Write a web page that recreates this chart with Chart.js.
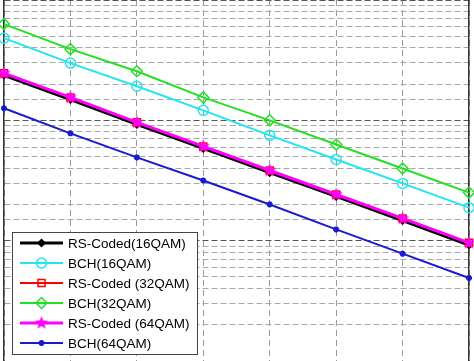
<!DOCTYPE html>
<html>
<head>
<meta charset="utf-8">
<script src="https://cdn.jsdelivr.net/npm/chart.js@4"></script>
<style>
  body { margin: 0; background: #fff; }
  #wrap { width: 474px; height: 361px; position: relative; }
</style>
</head>
<body>
<div id="wrap"><canvas id="ber"></canvas></div>
<script>
// SNR points (dB) - axis labels are cropped out of the picture
var snr = [0, 2, 4, 6, 8, 10, 12, 14];

var rs16  = [0.237, 0.149, 0.0925, 0.0584, 0.0368, 0.0233, 0.0147, 0.0092];
var bch16 = [0.482, 0.299, 0.192, 0.121, 0.075, 0.0473, 0.0299, 0.0188];
var rs32  = [0.246, 0.155, 0.0962, 0.0607, 0.0383, 0.0242, 0.0153, 0.0096];
var bch32 = [0.631, 0.391, 0.256, 0.155, 0.1, 0.063, 0.0398, 0.0251];
var rs64  = [0.246, 0.155, 0.0962, 0.0607, 0.0383, 0.0242, 0.0153, 0.0096];
var bch64 = [0.126, 0.078, 0.0492, 0.0316, 0.02, 0.0124, 0.0078, 0.0049];

var names = ['RS-Coded(16QAM)', 'BCH(16QAM)', 'RS-Coded (32QAM)', 'BCH(32QAM)', 'RS-Coded (64QAM)', 'BCH(64QAM)'];

// filled star marker for the 64QAM RS curve
function starImage(r, color) {
    var c = document.createElement('canvas');
    c.width = c.height = 2 * r + 2;
    var g = c.getContext('2d');
    g.beginPath();
    for (var i = 0; i < 10; i++) {
        var a = -Math.PI / 2 + i * Math.PI / 5;
        var rr = (i % 2 == 0) ? r : r * 0.42;
        g.lineTo(r + 1 + rr * Math.cos(a), r + 1 + rr * Math.sin(a));
    }
    g.closePath();
    g.fillStyle = color;
    g.fill();
    return c;
}
var star = starImage(7, '#ff00ff');

function pts(arr) {
    return arr.map(function (v, i) { return {x: snr[i], y: v}; });
}

function ds(label, values, color, width, style, radius, fill, order) {
    return {
        label: label,
        data: pts(values),
        borderColor: color,
        borderWidth: width,
        pointStyle: style,
        pointRadius: radius,
        pointBorderColor: color,
        pointBackgroundColor: fill,
        pointBorderWidth: 1.5,
        tension: 0,
        clip: false,
        order: order
    };
}

var datasets = [
    ds(names[0], rs16, '#000000', 3, 'rectRot', 3.5, '#000000', 3),
    ds(names[1], bch16, '#22e5f0', 2, 'circle', 5, 'rgba(0,0,0,0)', 4),
    ds(names[2], rs32, '#ff0000', 2, 'rect', 5, 'rgba(0,0,0,0)', 2),
    ds(names[3], bch32, '#22e022', 2, 'rectRot', 5.5, 'rgba(0,0,0,0)', 4),
    ds(names[4], rs64, '#ff00ff', 3, star, 7, '#ff00ff', 1),
    ds(names[5], bch64, '#1a1ad0', 2, 'star', 3, '#1a1ad0', 4)
];
datasets[5].pointBorderWidth = 2;

// MATLAB style legend box in the lower left corner
var boxLegend = {
    id: 'boxLegend',
    afterDraw: function (chart) {
        var ctx = chart.ctx;
        var x0 = 12, y0 = 232, w = 185, h = 122;
        ctx.save();
        ctx.fillStyle = '#ffffff';
        ctx.fillRect(x0, y0, w, h);
        ctx.strokeStyle = '#444444';
        ctx.lineWidth = 1;
        ctx.strokeRect(x0 + 0.5, y0 + 0.5, w, h);
        ctx.font = '13.5px "Liberation Sans", Arial, sans-serif';
        ctx.textBaseline = 'middle';
        chart.data.datasets.forEach(function (d, i) {
            var y = y0 + 11 + i * 20;
            ctx.beginPath();
            ctx.strokeStyle = d.borderColor;
            ctx.lineWidth = d.borderWidth;
            ctx.moveTo(20, y);
            ctx.lineTo(63, y);
            ctx.stroke();
            ctx.fillStyle = d.pointBackgroundColor;
            ctx.strokeStyle = d.pointBorderColor;
            ctx.lineWidth = d.pointBorderWidth;
            Chart.helpers.drawPoint(ctx, {
                pointStyle: d.pointStyle,
                radius: d.pointRadius,
                rotation: 0,
                borderWidth: d.pointBorderWidth
            }, 41.5, y);
            ctx.fillStyle = '#000000';
            ctx.fillText(d.label, 68, y + 1);
        });
        ctx.restore();
    }
};

function isDecade(v) {
    var l = Math.log10(v);
    return Math.abs(l - Math.round(l)) < 1e-6;
}

function noWidth(scale) { scale.width = 0; }
function noHeight(scale) { scale.height = 0; }

var myChart = new Chart(document.getElementById('ber'), {
    type: 'line',
    data: {datasets: datasets},
    options: {
        responsive: true,
        maintainAspectRatio: false,
        animation: false,
        layout: {autoPadding: false, padding: {left: 4, right: 5, top: 0, bottom: 0}},
        plugins: {legend: {display: false}, tooltip: {enabled: false}},
        scales: {
            x: {
                type: 'linear',
                min: 0,
                max: 14,
                afterFit: noHeight,
                ticks: {display: false, stepSize: 2},
                grid: {color: '#9a9a9a', drawTicks: false, lineWidth: 1},
                border: {display: false, dash: [6, 4]}
            },
            y: {
                type: 'logarithmic',
                min: 0.001,
                max: 1,
                afterFit: noWidth,
                ticks: {display: false, autoSkip: false},
                grid: {
                    drawTicks: false,
                    lineWidth: 1,
                    color: function (c) {
                        return (c.tick && isDecade(c.tick.value)) ? '#555555' : '#a8a8a8';
                    }
                },
                border: {display: true, color: '#333333', width: 1.5, dash: [6, 3]}
            },
            y2: {
                type: 'logarithmic',
                position: 'right',
                min: 0.001,
                max: 1,
                afterFit: noWidth,
                ticks: {display: false},
                grid: {display: false, drawTicks: false},
                border: {display: true, color: '#333333', width: 1.5}
            }
        }
    },
    plugins: [boxLegend]
});
window.myChart = myChart;
</script>
</body>
</html>
